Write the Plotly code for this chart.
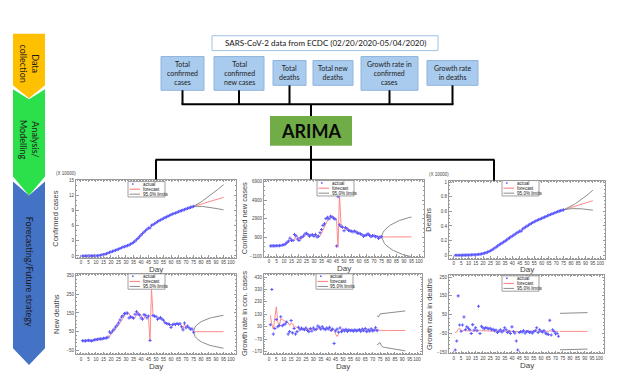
import plotly.graph_objects as go

W, H = 627, 381


def fx(p):
    return p / W


def fy(p):
    return 1 - p / H


# ---------------------------------------------------------------- data
days = list(range(1, 76))
days_future = list(range(75, 96))

# Total confirmed cases (x 10000)
confirmed_cases = [
    0.0005, 0.0005, 0.0018, 0.0028, 0.0043, 0.0061, 0.0095, 0.0139, 0.0245, 0.0388,
    0.059, 0.098, 0.15, 0.23, 0.29, 0.35, 0.45, 0.58, 0.70, 0.80,
    0.90, 1.03, 1.13, 1.24, 1.37, 1.49, 1.64, 1.78, 1.84, 1.96,
    2.06, 2.16, 2.36, 2.49, 2.70, 2.96, 3.21, 3.50, 3.84, 4.15,
    4.45, 4.75, 5.03, 5.31, 5.57, 5.57, 6.09, 6.22, 6.40, 6.62,
    6.82, 7.02, 7.15, 7.30, 7.49, 7.62, 7.78, 7.92, 8.06, 8.22,
    8.35, 8.45, 8.55, 8.68, 8.80, 8.92, 9.03, 9.13, 9.23, 9.36,
    9.46, 9.56, 9.67, 9.76, 9.86]
confirmed_cases_forecast = [
    9.86, 9.95, 10.04, 10.13, 10.22, 10.31, 10.40, 10.49, 10.58, 10.67, 10.76,
    10.85, 10.94, 11.03, 11.12, 11.21, 11.30, 11.39, 11.48, 11.57, 11.66]
confirmed_cases_upper = [
    9.86, 10.01, 10.18, 10.36, 10.55, 10.75, 10.95, 11.16, 11.37, 11.59, 11.81,
    12.03, 12.26, 12.49, 12.72, 12.96, 13.20, 13.44, 13.68, 13.93, 14.18]
confirmed_cases_lower = [
    9.86, 9.89, 9.90, 9.90, 9.89, 9.87, 9.85, 9.82, 9.79, 9.75, 9.71,
    9.67, 9.62, 9.57, 9.52, 9.47, 9.41, 9.35, 9.29, 9.23, 9.17]

# Total confirmed new cases
new_cases = [
    0, 3, 13, 10, 15, 18, 34, 44, 106, 143,
    205, 385, 523, 835, 586, 591, 1234, 1076, 743, 595,
    881, 958, 1075, 1289, 1365, 1209, 1053, 1178, 1192, 1046,
    1237, 966, 1028, 1411, 1762, 2206, 2389, 2926, 3076, 2901,
    3186, 3111, 2987, 2875, 0, 5275, 2274, 2089, 1997, 1634,
    1972, 1837, 1657, 1617, 1574, 1512, 1606, 1499, 1374, 1343,
    1297, 1194, 1030, 1134, 1168, 1294, 1134, 991, 1112, 1073,
    993, 1006, 802, 976, 980]
new_cases_fitted = [
    0, 0, 3, 12, 11, 15, 19, 32, 45, 98,
    140, 200, 370, 510, 800, 600, 600, 1180, 1070, 760,
    620, 860, 950, 1070, 1270, 1350, 1220, 1080, 1170, 1180,
    1060, 1220, 990, 1040, 1380, 1720, 2160, 2370, 2880, 3050,
    2920, 3160, 3100, 2990, 2880, -150, 5500, 2400, 2120, 2000,
    1680, 1940, 1830, 1670, 1620, 1580, 1520, 1590, 1500, 1390,
    1350, 1300, 1200, 1050, 1120, 1160, 1270, 1140, 1010, 1100,
    1070, 1000, 1000, 830, 960]
new_cases_forecast = [
    960, 968, 970, 970, 970, 970, 970, 970, 970, 970, 970,
    970, 970, 970, 970, 970, 970, 970, 970, 970, 970]
new_cases_upper = [
    960, 1450, 1680, 1860, 2000, 2130, 2240, 2340, 2430, 2510, 2590,
    2660, 2730, 2790, 2850, 2900, 2950, 2990, 3030, 3060, 3090]
new_cases_lower = [
    960, 490, 260, 80, -60, -190, -300, -400, -490, -570, -650,
    -720, -790, -850, -910, -960, -1010, -1050, -1090, -1120, -1150]

# Total deaths (x 10000)
deaths = [
    0.0002, 0.0004, 0.0005, 0.0008, 0.0012, 0.0015, 0.0016, 0.0019, 0.0026, 0.0034,
    0.0043, 0.0054, 0.0066, 0.0077, 0.0092, 0.0107, 0.0124, 0.0145, 0.0194, 0.0237,
    0.0291, 0.0354, 0.0429, 0.0514, 0.0611, 0.0724, 0.0853, 0.0988, 0.1135, 0.1284,
    0.1433, 0.1556, 0.1685, 0.1812, 0.1934, 0.2077, 0.2234, 0.2378, 0.2517, 0.2640,
    0.2757, 0.2898, 0.3036, 0.3160, 0.3294, 0.3297, 0.3585, 0.3721, 0.3854, 0.3985,
    0.4110, 0.4232, 0.4357, 0.4474, 0.4585, 0.4683, 0.4777, 0.4869, 0.4958, 0.5031,
    0.5118, 0.5209, 0.5297, 0.5391, 0.5481, 0.5574, 0.5650, 0.5710, 0.5806, 0.5877,
    0.5957, 0.6028, 0.6091, 0.6156, 0.6203]
deaths_forecast = [
    0.6203, 0.627, 0.633, 0.640, 0.646, 0.652, 0.658, 0.665, 0.671, 0.677, 0.683,
    0.690, 0.696, 0.702, 0.708, 0.714, 0.720, 0.727, 0.733, 0.739, 0.745]
deaths_upper = [
    0.6203, 0.629, 0.638, 0.648, 0.658, 0.669, 0.680, 0.692, 0.704, 0.717, 0.730,
    0.744, 0.758, 0.773, 0.788, 0.804, 0.820, 0.837, 0.854, 0.871, 0.889]
deaths_lower = [
    0.6203, 0.625, 0.628, 0.632, 0.634, 0.636, 0.637, 0.638, 0.638, 0.638, 0.637,
    0.636, 0.635, 0.633, 0.631, 0.629, 0.627, 0.625, 0.622, 0.619, 0.616]

# Total new deaths
new_deaths = [
    2, 2, 1, 3, 4, 3, 1, 3, 7, 8,
    9, 11, 12, 11, 15, 15, 17, 21, 49, 43,
    54, 63, 75, 85, 97, 113, 129, 135, 147, 149,
    149, 123, 129, 127, 122, 143, 157, 144, 139, 123,
    117, 141, 138, 124, 134, 3, 288, 136, 133, 131,
    117, 122, 125, 117, 111, 98, 94, 92, 89, 73,
    87, 91, 88, 94, 90, 93, 76, 60, 96, 71,
    80, 71, 63, 65, 47]
new_deaths_fitted = [
    2, 2, 2, 1, 3, 4, 3, 2, 3, 6,
    8, 9, 11, 12, 12, 14, 15, 17, 21, 44,
    45, 53, 62, 74, 84, 96, 111, 127, 135, 146,
    149, 149, 128, 128, 127, 123, 140, 155, 146, 140,
    126, 119, 137, 138, 127, 0, 280, 140, 134, 132,
    120, 121, 124, 118, 112, 100, 95, 92, 89, 76,
    85, 90, 88, 93, 90, 92, 79, 63, 92, 74,
    79, 72, 64, 65, 50]
new_deaths_forecast = [
    50, 50, 50, 50, 50, 50, 50, 50, 50, 50, 50,
    50, 50, 50, 50, 50, 50, 50, 50, 50, 50]
new_deaths_upper = [
    50, 75, 85, 92, 98, 103, 107, 111, 114, 117, 120,
    123, 125, 127, 129, 131, 133, 135, 136, 137, 138]
new_deaths_lower = [
    50, 25, 15, 8, 2, -3, -7, -11, -14, -17, -20,
    -23, -25, -27, -29, -31, -33, -35, -36, -37, -38]

# Growth rate in confirmed cases
days_gc = list(range(1, 74))
days_gc_future = list(range(73, 93))
growth_cases = [
    45, 330, -30, 16, 88, 30, 40, 110, 37, 45,
    52, 68, -30, -10, 80, -20, 15, -30, -10, 25,
    5, 18, 10, 5, 20, 0, -10, 15, -5, 20,
    5, 10, 35, 25, 10, 30, 15, 5, 20, 12,
    25, 0, 10, -105, -5, 10, -15, 20, -10, 5,
    -5, 8, -8, 5, -3, 2, -6, 4, -4, 0,
    6, -8, 10, -2, 15, -10, 5, -6, 12, -4,
    2, 22, -2]
growth_cases_fitted = [
    120, 45, 10, 100, 190, 70, 30, 95, 85, 80,
    75, 65, 60, 40, 60, 55, 25, 30, 20, 15,
    15, 12, 14, 10, 12, 15, 8, 5, 10, 8,
    10, 8, 12, 20, 18, 15, 18, 15, 12, 15,
    14, 16, 10, 8, -30, -50, -25, -10, 5, -2,
    0, -2, 3, -3, 2, -1, 1, -2, 2, -1,
    0, 3, -3, 4, 0, 6, -3, 2, -2, 5,
    -1, 1, 8]
growth_cases_forecast = [
    8, 6, -4, 2, -2, 0, -1, -1, -1, -1,
    -1, -1, -1, -1, -1, -1, -1, -1, -1, -1]
growth_cases_upper = [
    117, 108, 133, 136, 137, 138, 139, 140, 141, 143,
    144, 145, 146, 148, 149, 150, 152, 153, 155, 157]
growth_cases_lower = [
    -117, -110, -99, -125, -135, -137, -139, -141, -143, -145,
    -147, -149, -151, -153, -155, -157, -159, -161, -163, -165]

# Growth rate in deaths
days_gd = list(range(1, 73))
days_gd_future = list(range(73, 93))
growth_deaths = [
    -138, -90, 150, -5, -38, -5, 38, -30, -15, -22,
    -30, -50, -3, -32, -20, -35, 95, -50, -12, -20,
    -25, -18, -22, -25, -22, -30, -28, -35, -32, -45,
    -38, -30, -42, -35, -20, -30, -45, -38, -50, -15,
    -40, -48, -90, -138, -45, -40, -42, -35, -48, -40,
    -38, -45, -42, -48, -40, -35, -20, -45, -30, -38,
    -42, -35, -48, -52, -55, 20, -58, -30, -40, -52,
    -50, -65]
growth_deaths_fitted = [
    -45, -42, -28, -22, -38, -36, -33, -32, -36, -35,
    -34, -36, -37, -35, -36, -35, -37, -30, -36, -35,
    -36, -35, -36, -37, -36, -37, -38, -36, -37, -38,
    -37, -38, -37, -38, -36, -37, -38, -37, -38, -36,
    -37, -38, -39, -40, -41, -39, -38, -38, -39, -38,
    -38, -39, -38, -39, -38, -37, -36, -38, -37, -38,
    -38, -37, -38, -39, -39, -35, -39, -37, -38, -39,
    -39, -40]
growth_deaths_forecast = [
    -39, -39, -39, -39, -39, -39, -39, -39, -39, -39,
    -39, -39, -39, -39, -39, -39, -39, -39, -39, -39]
growth_deaths_upper = [
    57, 57, 58, 58, 58, 58, 59, 59, 59, 59,
    59, 60, 60, 60, 60, 60, 61, 61, 61, 61]
growth_deaths_lower = [
    -137, -137, -136, -136, -136, -136, -135, -135, -135, -135,
    -135, -134, -134, -134, -134, -134, -134, -133, -133, -133]

# text
title_text = "SARS-CoV-2 data from ECDC (02/20/2020-05/04/2020)"
category_labels = ["Total<br>confirmed<br>cases", "Total<br>confirmed<br>new cases",
                   "Total<br>deaths", "Total new<br>deaths",
                   "Growth rate in<br>confirmed<br>cases", "Growth rate<br>in deaths"]
stage_labels = ["Data<br>collection", "Analysis/<br>Modelling", "Forecasting/Future strategy"]
method_label = "ARIMA"
legend_labels = ["actual", "forecast", "95.0% limits"]

# ---------------------------------------------------------------- styling / layout
C_ACT = "#5a5aff"
C_FC = "#ff8a8a"
C_LIM = "#8c8c8c"
FRAME = "#9a9a9a"
TXT = "#333333"
CHART_FONT = "Liberation Sans"
DIAG_FONT = "Lato"

panels = [
    dict(frame=(76, 180, 236, 259), yr=[-0.4, 15.2], t0=0, dt=3, yt="Confirmed cases",
         mult=True, leg=(128, 182), day_dy=11.5,
         series=(days, confirmed_cases, days, confirmed_cases, days_future,
                 confirmed_cases_forecast, confirmed_cases_upper, confirmed_cases_lower)),
    dict(frame=(264, 180, 424, 258), yr=[-1180, 7110], t0=-1100, dt=2000,
         yt="Confirmed new cases", mult=False, leg=(317, 181), day_dy=12,
         series=(days, new_cases, days, new_cases_fitted, days_future,
                 new_cases_forecast, new_cases_upper, new_cases_lower)),
    dict(frame=(449, 181, 605, 260), yr=[-0.05, 1.02], t0=0, dt=0.2, yt="Deaths",
         mult=True, leg=(502, 181), day_dy=11,
         series=(days, deaths, days, deaths, days_future,
                 deaths_forecast, deaths_upper, deaths_lower)),
    dict(frame=(76, 275, 236, 356), yr=[-70, 359], t0=-50, dt=100, yt="New deaths",
         mult=False, leg=(128, 275), day_dy=12,
         series=(days, new_deaths, days, new_deaths_fitted, days_future,
                 new_deaths_forecast, new_deaths_upper, new_deaths_lower)),
    dict(frame=(264, 275, 422, 356), yr=[-192, 456], t0=-170, dt=100,
         yt="Growth rate in con. cases", mult=False, leg=(316, 275), day_dy=12,
         series=(days_gc, growth_cases, days_gc, growth_cases_fitted, days_gc_future,
                 growth_cases_forecast, growth_cases_upper, growth_cases_lower)),
    dict(frame=(449, 276, 604, 355), yr=[-155, 262], t0=-150, dt=100,
         yt="Growth rate in deaths", mult=False, leg=(502, 277), day_dy=12,
         series=(days_gd, growth_deaths, days_gd, growth_deaths_fitted, days_gd_future,
                 growth_deaths_forecast, growth_deaths_upper, growth_deaths_lower)),
]

fig = go.Figure()
layout = dict(width=W, height=H, margin=dict(l=0, r=0, t=0, b=0),
              paper_bgcolor="white", plot_bgcolor="white", showlegend=False,
              font=dict(family=CHART_FONT, color=TXT))
shapes = []
annotations = []


def note(x, y, text, size, color="#333", family=CHART_FONT, angle=0, xanchor="center"):
    annotations.append(dict(x=fx(x), y=fy(y), xref="paper", yref="paper", text=text,
                            showarrow=False, xanchor=xanchor, yanchor="middle",
                            textangle=angle, borderpad=0,
                            font=dict(size=size, color=color, family=family)))


for i, p in enumerate(panels, start=1):
    sx = "" if i == 1 else str(i)
    xa, ya = "x" + sx, "y" + sx
    ax_act, y_act, ax_fit, y_fit, ax_fut, y_fut, y_up, y_lo = p["series"]
    fig.add_trace(go.Scatter(x=ax_fit, y=y_fit, mode="lines", line=dict(color=C_FC, width=1),
                             xaxis=xa, yaxis=ya, hoverinfo="skip"))
    fig.add_trace(go.Scatter(x=ax_fut, y=y_fut, mode="lines", line=dict(color=C_FC, width=1),
                             xaxis=xa, yaxis=ya, hoverinfo="skip"))
    fig.add_trace(go.Scatter(x=ax_fut, y=y_up, mode="lines", line=dict(color=C_LIM, width=1),
                             xaxis=xa, yaxis=ya, hoverinfo="skip"))
    fig.add_trace(go.Scatter(x=ax_fut, y=y_lo, mode="lines", line=dict(color=C_LIM, width=1),
                             xaxis=xa, yaxis=ya, hoverinfo="skip"))
    fig.add_trace(go.Scatter(x=ax_act, y=y_act, mode="markers",
                             marker=dict(symbol="cross", size=2.6, color=C_ACT,
                                         line=dict(width=0)),
                             xaxis=xa, yaxis=ya))

    l, t, r, b = p["frame"]
    common = dict(showline=True, linecolor=FRAME, linewidth=1, mirror="ticks",
                  ticks="inside", ticklen=2.5, tickcolor=FRAME, showgrid=False,
                  zeroline=False, tickangle=0,
                  tickfont=dict(size=4.5, color="#444", family=CHART_FONT),
                  minor=dict(ticks="inside", ticklen=1.3, tickcolor=FRAME))
    layout["xaxis" + sx] = dict(domain=[fx(l), fx(r)], range=[-3.3, 103.3], anchor=ya,
                                tick0=0, dtick=5, **common)
    layout["yaxis" + sx] = dict(domain=[fy(b), fy(t)], range=p["yr"], anchor=xa,
                                tick0=p["t0"], dtick=p["dt"], **common)

    # axis titles
    note((l + r) / 2, b + p["day_dy"], "Day", 8, "#444")
    note(l - 20, (t + b) / 2, p["yt"], 7.5, "#444", angle=-90)
    if p["mult"]:
        note(l - 10, t - 6, "(X 10000)", 4.5, "#444")

    # legend box
    lx, ly = p["leg"]
    shapes.append(dict(type="rect", xref="paper", yref="paper", x0=fx(lx), x1=fx(lx + 37),
                       y0=fy(ly + 15.5), y1=fy(ly), line=dict(color="#888", width=0.8),
                       fillcolor="white", layer="above"))
    shapes.append(dict(type="rect", xref="paper", yref="paper", x0=fx(lx + 4), x1=fx(lx + 5.6),
                       y0=fy(ly + 3.3), y1=fy(ly + 1.7), line=dict(width=0),
                       fillcolor=C_ACT, layer="above"))
    shapes.append(dict(type="line", xref="paper", yref="paper", x0=fx(lx + 1.5), x1=fx(lx + 12),
                       y0=fy(ly + 7.7), y1=fy(ly + 7.7), line=dict(color=C_FC, width=1.2),
                       layer="above"))
    shapes.append(dict(type="line", xref="paper", yref="paper", x0=fx(lx + 1.5), x1=fx(lx + 12),
                       y0=fy(ly + 12.7), y1=fy(ly + 12.7), line=dict(color=C_LIM, width=1),
                       layer="above"))
    for k, lab in enumerate(legend_labels):
        note(lx + 13.5, ly + 2.6 + 5.1 * k, lab, 4.6, "#222", xanchor="left")

# ---------------------------------------------------------------- diagram parts
def path(points):
    return "M " + " L ".join(f"{fx(a):.5f},{fy(b):.5f}" for a, b in points) + " Z"


# stage arrows on the left
arrows = [
    ([(13, 33), (45, 33), (45, 85), (29, 98), (13, 85)], "#FFC000", 63),
    ([(13, 89), (29, 99), (45, 89), (45, 177), (29, 196), (13, 177)], "#2CE04C", 140),
    ([(13, 182), (29, 196), (45, 182), (45, 350), (29, 367), (13, 350)], "#4472C4", 273),
]
for (pts, col, cy), lab in zip(arrows, stage_labels):
    shapes.append(dict(type="path", xref="paper", yref="paper", path=path(pts),
                       fillcolor=col, line=dict(width=0), layer="below"))
    note(29, cy, lab, 9, "#1a1a1a", DIAG_FONT, angle=90)

# title box
shapes.append(dict(type="rect", xref="paper", yref="paper", x0=fx(212), x1=fx(438),
                   y0=fy(50), y1=fy(35), line=dict(color="#9DC3E6", width=1),
                   fillcolor="white"))
note(325, 42.5, title_text, 8, "#111", DIAG_FONT)

# category boxes
boxes = [(161, 56, 204, 90), (214, 56, 264, 90), (273, 60, 306, 85),
         (313, 60, 353, 85), (361, 56, 418, 90), (427, 60, 478, 85)]
for (x0, y0, x1, y1), lab in zip(boxes, category_labels):
    shapes.append(dict(type="rect", xref="paper", yref="paper", x0=fx(x0), x1=fx(x1),
                       y0=fy(y1), y1=fy(y0), line=dict(color="#8EB4DE", width=1),
                       fillcolor="#A9CBEE"))
    note((x0 + x1) / 2, (y0 + y1) / 2, lab, 7, "#222", DIAG_FONT)


def seg(xa, ya, xb, yb):
    shapes.append(dict(type="line", xref="paper", yref="paper", x0=fx(xa), y0=fy(ya),
                       x1=fx(xb), y1=fy(yb), line=dict(color="black", width=2)))


for (x0, y0, x1, y1) in [boxes[0], boxes[1], boxes[2], boxes[4], boxes[5]]:
    seg((x0 + x1) / 2, y1, (x0 + x1) / 2, 104)
seg(181.5, 104, 453.5, 104)
seg(311, 104, 311, 116)
seg(311, 146, 311, 160)
seg(155.5, 160, 494.5, 160)
seg(156, 160, 156, 180)
seg(311, 160, 311, 180)
seg(494, 160, 494, 181)

# ARIMA box
shapes.append(dict(type="rect", xref="paper", yref="paper", x0=fx(270), x1=fx(352),
                   y0=fy(146), y1=fy(116), line=dict(width=0), fillcolor="#70AD47"))
note(311, 131, "<b>" + method_label + "</b>", 18, "#0a0a0a", DIAG_FONT)

layout["shapes"] = shapes
layout["annotations"] = annotations
fig.update_layout(**layout)
fig.write_html("out.html", config={"displayModeBar": False},
               post_script="document.body.style.margin='0';")
